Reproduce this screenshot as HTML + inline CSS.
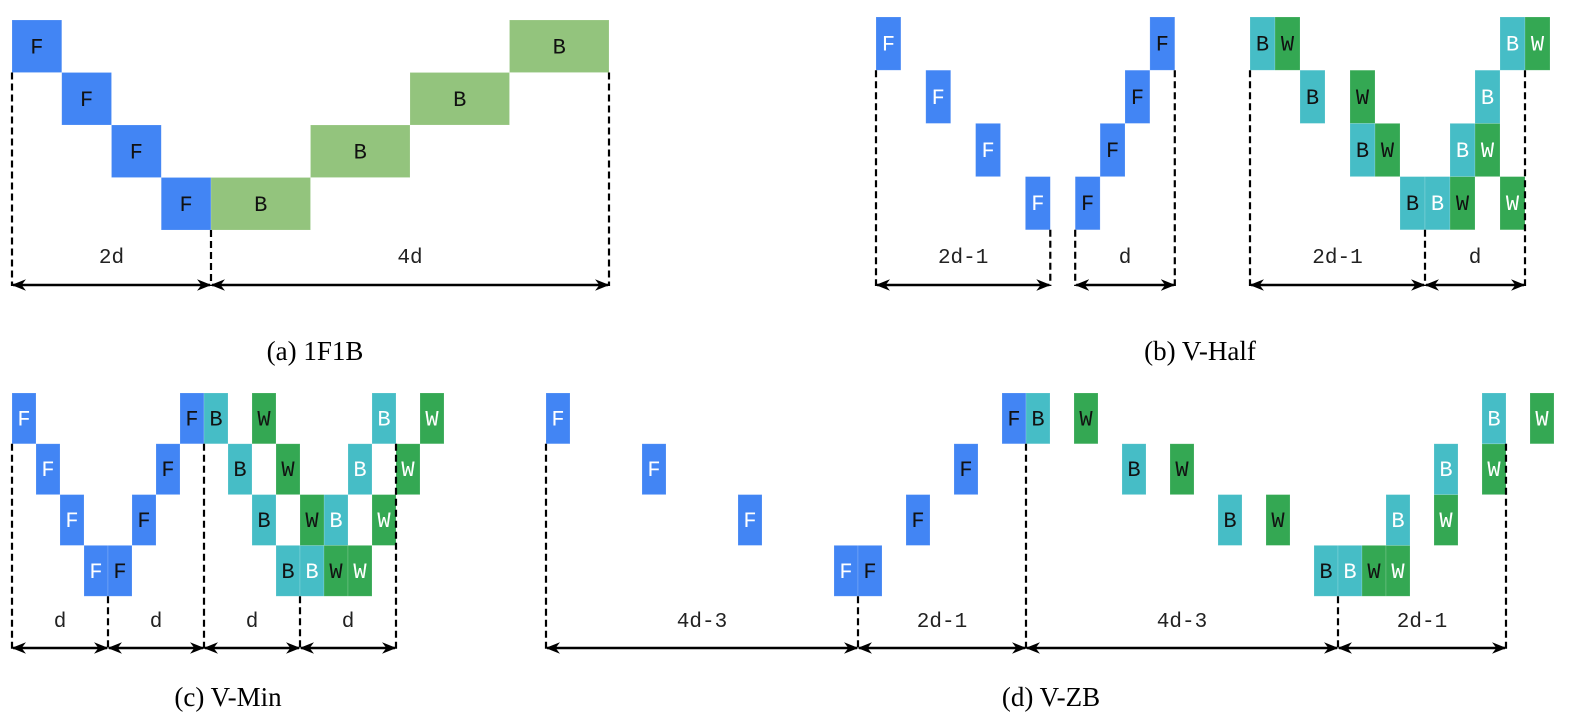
<!DOCTYPE html>
<html><head><meta charset="utf-8">
<style>
html,body{margin:0;padding:0;background:#fff;}
svg{display:block;}
.cap{font-family:"Liberation Serif",serif;font-size:27px;fill:#000;}
.lab{font-family:"Liberation Mono",monospace;font-size:21px;fill:#222;}
.blk{font-family:"Liberation Mono",monospace;font-size:22px;}
</style></head>
<body>
<svg id="fig" width="1584" height="728" viewBox="0 0 1584 728" xmlns="http://www.w3.org/2000/svg">
<defs>
<marker id="ah" viewBox="0 0 10 10" refX="9" refY="5" markerWidth="6" markerHeight="6" orient="auto-start-reverse">
<path d="M0,1 L10,5 L0,9 L3,5 z" fill="#000"/>
</marker>
</defs>
<text class="cap" x="315" y="360" text-anchor="middle">(a) 1F1B</text>
<text class="cap" x="1200" y="360" text-anchor="middle">(b) V-Half</text>
<text class="cap" x="228" y="706" text-anchor="middle">(c) V-Min</text>
<text class="cap" x="1051" y="706" text-anchor="middle">(d) V-ZB</text>
</svg>
<script>
// block: [kind, row, col, span, textWhite]
const blocksA = [["F",0,0,1,0],["F",1,1,1,0],["F",2,2,1,0],["F",3,3,1,0],["B1",3,4,2,0],["B1",2,6,2,0],["B1",1,8,2,0],["B1",0,10,2,0]];
const dashesA = [[0,0],[4,3],[12,0]];
const labelsA = ["2d","4d"];

const blocksB1 = [["F",0,0,1,1],["F",1,2,1,1],["F",2,4,1,1],["F",3,6,1,1],["F",3,8,1,0],["F",2,9,1,0],["F",1,10,1,0],["F",0,11,1,0]];
const dashesB1 = [[0,0],[7,3],[8,3],[12,0]];
const labelsB1 = ["2d-1","d"];

const blocksB2 = [["B",0,0,1,0],["W",0,1,1,0],["B",1,2,1,0],["W",1,4,1,0],["B",2,4,1,0],["W",2,5,1,0],["B",3,6,1,0],["B",3,7,1,1],["W",3,8,1,0],["W",3,10,1,1],["B",2,8,1,1],["W",2,9,1,1],["B",1,9,1,1],["B",0,10,1,1],["W",0,11,1,1]];
const dashesB2 = [[0,0],[7,3],[11,0]];
const labelsB2 = ["2d-1","d"];

const blocksC = [["F",0,0,1,1],["F",1,1,1,1],["F",2,2,1,1],["F",3,3,1,1],["F",3,4,1,0],["F",2,5,1,0],["F",1,6,1,0],["F",0,7,1,0],
["B",0,8,1,0],["B",1,9,1,0],["B",2,10,1,0],["B",3,11,1,0],["B",3,12,1,1],["B",2,13,1,1],["B",1,14,1,1],["B",0,15,1,1],
["W",0,10,1,0],["W",1,11,1,0],["W",2,12,1,0],["W",3,13,1,0],["W",3,14,1,1],["W",2,15,1,1],["W",1,16,1,1],["W",0,17,1,1]];
const dashesC = [[0,0],[4,3],[8,0],[12,3],[16,0]];
const labelsC = ["d","d","d","d"];

const blocksD = [["F",0,0,1,1],["F",1,4,1,1],["F",2,8,1,1],["F",3,12,1,1],["F",3,13,1,0],["F",2,15,1,0],["F",1,17,1,0],["F",0,19,1,0],
["B",0,20,1,0],["W",0,22,1,0],["B",1,24,1,0],["W",1,26,1,0],["B",2,28,1,0],["W",2,30,1,0],["B",3,32,1,0],["B",3,33,1,1],["W",3,34,1,0],["W",3,35,1,1],
["B",2,35,1,1],["W",2,37,1,1],["B",1,37,1,1],["W",1,39,1,1],["B",0,39,1,1],["W",0,41,1,1]];
const dashesD = [[0,0],[13,3],[20,0],[33,3],[40,0]];
const labelsD = ["4d-3","2d-1","4d-3","2d-1"];

const COL = {F:"#4285F4", B1:"#93C47D", B:"#46BDC6", W:"#34A853"};
const NS = "http://www.w3.org/2000/svg";
const svg = document.getElementById("fig");

function mk(tag, attrs, parent){ const e=document.createElementNS(NS,tag); for(const k in attrs) e.setAttribute(k,attrs[k]); parent.appendChild(e); return e; }

function panel(name, blocks, dashes, ox, u, oy, rh, arrowY, skipArrow){
  const g = mk("g",{},svg);
  
  
  const xs = c => ox + c*u;
  const ys = r => oy + r*rh;
  blocks.forEach(b=>{
    const [k,r,c,s,wt]=b;
    const rect = mk("rect",{x:xs(c),y:ys(r),width:s*u,height:rh,fill:COL[k],stroke:"rgba(255,255,255,0.25)","stroke-width":0.6},g);
    
    
    const t = mk("text",{x:xs(c)+s*u/2,y:ys(r)+rh/2+7,"text-anchor":"middle",class:"blk",fill:wt?"#fff":"#111"},g);
    t.textContent = k==="B1"?"B":k;
    
    
  });
  dashes.forEach(d=>{
    const [c,r]=d;
    const l = mk("line",{x1:xs(c),x2:xs(c),y1:ys(r+1),y2:arrowY+1,stroke:"#000","stroke-width":2.2,"stroke-dasharray":"7,4"},g);
    
    
  });
  for(let i=0;i<dashes.length-1;i++){
    if(skipArrow===i) continue;
    const a=xs(dashes[i][0]), b=xs(dashes[i+1][0]);
    const ar = mk("line",{x1:a+1,x2:b-1,y1:arrowY,y2:arrowY,stroke:"#000","stroke-width":2.4,"marker-start":"url(#ah)","marker-end":"url(#ah)"},g);
    
    
  }
  return {g,xs};
}

function labelsFor(p, dashes, labels, y, pairs){
  labels.forEach((lbl,i)=>{
    const pr = pairs ? pairs[i] : [i,i+1];
    const a=p.xs(dashes[pr[0]][0]), b=p.xs(dashes[pr[1]][0]);
    const t = mk("text",{x:(a+b)/2,y:y,"text-anchor":"middle",class:"lab"},p.g);
    t.textContent=lbl;
    
    
  });
}

let p;
p = panel("panel-1f1b", blocksA, dashesA, 12, 49.75, 20, 52.5, 285);
labelsFor(p, dashesA, labelsA, 263);

p = panel("panel-v-half-forward", blocksB1, dashesB1, 876, 24.9, 17, 53.2, 285, 1);
labelsFor(p, dashesB1, labelsB1, 263, [[0,1],[2,3]]);

p = panel("panel-v-half-backward", blocksB2, dashesB2, 1250, 25, 17, 53.2, 285);
labelsFor(p, dashesB2, labelsB2, 263);

p = panel("panel-v-min", blocksC, dashesC, 12, 24, 393, 50.8, 648);
labelsFor(p, dashesC, labelsC, 627);

p = panel("panel-v-zb", blocksD, dashesD, 546, 24, 393, 50.8, 648);
labelsFor(p, dashesD, labelsD, 627);
</script>
</body></html>
